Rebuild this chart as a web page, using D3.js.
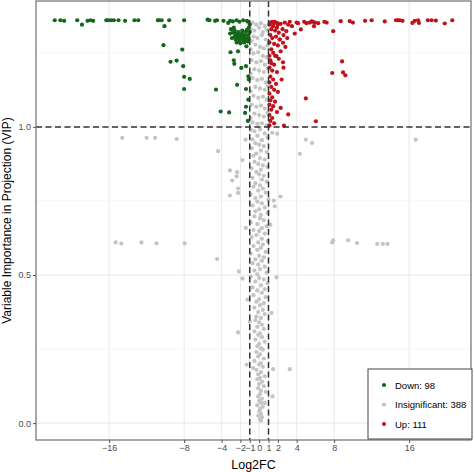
<!DOCTYPE html>
<html>
<head>
<meta charset="utf-8">
<script src="https://cdn.jsdelivr.net/npm/d3@7"></script>
<style>
  body { margin: 0; background: #fff; }
  text { font-family: "Liberation Sans", Arial, sans-serif; }
</style>
</head>
<body>
<script>
// Log2FC / VIP values, [log2fc, vip]
var downPoints = [
  // top row
  [-21.8,1.360],[-21.2,1.360],[-20.8,1.358],[-19.4,1.360],[-18.9,1.345],[-18.3,1.358],[-18.0,1.360],[-17.7,1.358],
  [-16.3,1.360],[-16.1,1.360],[-15.8,1.360],[-15.5,1.360],[-15.0,1.360],[-14.3,1.358],[-13.3,1.360],[-12.9,1.360],
  [-10.8,1.360],[-10.7,1.360],[-10.4,1.360],[-10.1,1.340],[-9.6,1.360],[-8.0,1.360],[-5.5,1.362],[-5.3,1.360],
  [-4.7,1.358],[-4.5,1.360],[-3.8,1.358],[-3.3,1.351],[-3.1,1.358],[-2.8,1.356],[-2.4,1.360],[-2.1,1.355],
  [-1.7,1.360],[-1.3,1.358],[-1.2,1.355],
  // dense cluster near -2
  [-3.0,1.330],[-2.8,1.318],[-2.6,1.325],[-2.4,1.310],[-2.2,1.320],[-2.0,1.305],[-1.8,1.315],[-1.6,1.300],
  [-1.4,1.322],[-1.2,1.310],[-2.9,1.300],[-2.5,1.295],[-2.1,1.290],[-1.7,1.292],[-1.3,1.298],[-1.1,1.335],
  [-2.3,1.300],[-1.9,1.298],[-1.5,1.310],[-2.7,1.335],[-3.1,1.315],[-2.0,1.282],[-1.6,1.285],[-1.2,1.288],
  [-2.4,1.285],[-1.8,1.325],[-1.0,1.320],[-1.4,1.295],[-2.2,1.308],[-2.6,1.305],[-1.1,1.300],[-1.9,1.312],
  [-1.3,1.328],[-2.5,1.315],[-1.7,1.305],[-2.1,1.296],[-1.5,1.290],[-1.0,1.345],
  // scattered
  [-10.2,1.276],[-8.2,1.261],[-9.45,1.220],[-8.8,1.224],[-8.1,1.205],[-8.0,1.169],[-7.4,1.162],[-8.0,1.128],
  [-4.6,1.126],[-3.05,1.252],[-2.25,1.255],[-2.7,1.225],[-2.65,1.213],[-1.9,1.199],[-1.4,1.205],[-2.35,1.142],
  [-1.4,1.128],[-4.1,1.052],[-3.2,1.049],[-1.4,1.068],[-1.15,1.092],[-1.15,1.171],[-1.1,1.160],[-1.35,1.272],
  [-1.5,1.047],[-1.2,1.020]
];

var upPoints = [
  // top row
  [1.25,1.352],[1.67,1.355],[1.96,1.350],[2.3,1.348],[2.74,1.352],[3.1,1.345],[3.27,1.355],[4.0,1.352],
  [4.15,1.350],[4.8,1.355],[5.05,1.350],[5.4,1.352],[5.6,1.356],[5.75,1.355],[5.95,1.352],[6.3,1.350],
  [6.95,1.355],[7.2,1.352],[8.7,1.357],[9.67,1.357],[10.0,1.352],[11.3,1.358],[12.0,1.360],[13.4,1.356],
  [14.6,1.360],[14.8,1.360],[15.0,1.360],[15.3,1.358],[16.35,1.351],[16.6,1.358],[16.95,1.360],[17.05,1.351],
  [18.0,1.360],[18.4,1.360],[18.85,1.359],[19.8,1.349],[20.6,1.360],
  // scattered
  [4.45,1.329],[5.85,1.340],[7.9,1.323],[2.9,1.323],[7.8,1.182],[8.85,1.221],[8.95,1.184],[9.2,1.174],
  [4.98,1.096],[6.05,1.019],[2.55,1.218],[3.1,1.042],[2.65,1.004],[2.3,1.064],[1.85,1.239],[2.2,1.295],
  [2.55,1.284],
  // column next to the cut-off
  [1.1,1.345],[1.3,1.330],[1.5,1.340],[1.7,1.325],[1.9,1.335],[2.1,1.318],[2.5,1.330],[1.2,1.310],
  [1.4,1.300],[1.8,1.305],[2.2,1.295],[2.6,1.310],[3.0,1.300],[1.1,1.285],[1.6,1.280],[2.0,1.275],
  [2.8,1.270],[1.3,1.262],[1.5,1.250],[1.1,1.240],[2.3,1.255],[1.2,1.225],[1.6,1.210],[1.1,1.200],
  [1.4,1.190],[1.9,1.185],[1.2,1.170],[1.5,1.160],[1.1,1.150],[1.8,1.145],[1.3,1.135],[1.6,1.125],
  [2.0,1.118],[1.1,1.112],[1.4,1.100],[1.2,1.090],[1.7,1.085],[1.1,1.075],[1.5,1.070],[1.3,1.058],
  [1.9,1.050],[1.1,1.040],[1.4,1.030],[1.2,1.020],[1.6,1.012],[1.1,1.005],[2.4,1.160],[2.6,1.200],
  [2.1,1.230],[1.3,1.215],[1.7,1.240],[1.2,1.350],[1.4,1.355],[1.6,1.350],[3.5,1.340],[3.8,1.315],
  [2.0,1.345]
];

var insigPoints = [
  // outliers
  [-14.6,0.963],[-12.0,0.963],[-11.1,0.963],[-8.8,0.959],[-15.3,0.610],[-14.7,0.606],[-12.55,0.610],[-10.95,0.607],
  [-7.95,0.607],[4.98,0.957],[5.65,0.946],[4.34,0.909],[16.7,0.957],[7.78,0.610],[7.9,0.617],[9.5,0.617],
  [10.45,0.608],[12.6,0.605],[13.2,0.605],[13.7,0.605],
  [-4.37,0.918],[-3.12,0.853],[-2.35,0.847],[-2.88,0.819],[-2.4,0.833],[-2.24,0.792],[-2.24,0.777],[-3.12,0.768],
  [-1.77,0.888],[-1.45,0.957],[1.39,0.980],[1.92,0.977],[2.28,0.765],[1.57,0.751],[1.67,0.732],[1.2,0.670],
  [-1.42,0.659],[-4.48,0.554],[-2.16,0.512],[-1.77,0.488],[1.85,0.492],[-2.24,0.306],[-1.34,0.197],[-0.64,0.186],
  [1.49,0.182],[3.27,0.182],[1.32,0.372],[1.43,0.090],[0.6,0.068],[-1.24,0.417],[-0.99,0.343],
  // column above 1.0
  [-0.7,1.352],[-0.3,1.345],[0.2,1.350],[0.6,1.340],[-0.9,1.330],[-0.5,1.325],[0.0,1.335],[0.4,1.320],
  [0.8,1.328],[-0.6,1.305],[-0.2,1.300],[0.3,1.310],[0.7,1.295],[-0.8,1.290],[-0.4,1.278],[0.1,1.270],
  [0.5,1.265],[0.9,1.275],[-0.9,1.262],[-0.6,1.248],[-0.1,1.252],[0.4,1.240],[0.8,1.235],[-0.8,1.225],
  [-0.3,1.218],[0.2,1.222],[0.6,1.210],[-0.5,1.195],[0.0,1.190],[0.5,1.185],[0.9,1.198],[-0.9,1.180],
  [-0.7,1.165],[-0.2,1.158],[0.3,1.162],[0.7,1.150],[-0.4,1.135],[0.1,1.130],[0.6,1.125],[-0.9,1.120],
  [0.9,1.138],[-0.6,1.105],[-0.1,1.098],[0.4,1.102],[0.8,1.092],[-0.8,1.075],[-0.3,1.068],[0.2,1.072],
  [0.6,1.062],[-0.5,1.045],[0.0,1.040],[0.5,1.035],[0.9,1.048],[-0.9,1.030],[-0.7,1.015],[-0.2,1.010],
  [0.3,1.012],[0.8,1.005],
  // column 0.5 - 1.0
  [-0.9,0.990],[-0.5,0.985],[0.1,0.992],[0.6,0.978],[-0.2,0.970],[0.9,0.965],[-0.7,0.958],[0.3,0.955],
  [-0.4,0.945],[0.0,0.940],[0.5,0.935],[-0.8,0.928],[0.2,0.920],[0.8,0.915],[-0.3,0.910],[-0.6,0.903],
  [0.1,0.895],[0.6,0.890],[-0.5,0.882],[-0.1,0.875],[0.4,0.870],[0.9,0.865],[-0.8,0.860],[0.2,0.855],
  [-0.3,0.848],[0.0,0.840],[0.5,0.835],[-0.7,0.828],[0.3,0.822],[0.8,0.815],[-0.4,0.810],[0.1,0.803],
  [-0.6,0.798],[0.4,0.792],[-0.1,0.785],[0.7,0.778],[-0.9,0.772],[0.2,0.765],[-0.4,0.760],[1.0,0.755],
  [-0.2,0.748],[0.3,0.742],[-0.7,0.735],[0.6,0.728],[0.0,0.722],[-0.4,0.715],[0.9,0.710],[0.2,0.703],
  [-0.5,0.698],[0.1,0.692],[0.5,0.685],[-0.9,0.678],[-0.2,0.672],[0.8,0.665],[0.3,0.658],[-0.6,0.652],
  [0.0,0.648],[0.6,0.640],[-0.3,0.635],[-0.8,0.628],[0.3,0.622],[0.9,0.615],[-0.1,0.610],[0.4,0.603],
  [-0.6,0.598],[0.2,0.592],[-0.2,0.585],[0.7,0.578],[-0.9,0.572],[0.0,0.565],[0.5,0.560],[-0.4,0.553],
  [0.3,0.548],[-0.7,0.540],[-0.1,0.535],[0.6,0.528],[0.1,0.520],[-0.5,0.515],[0.8,0.508],[-0.2,0.502],
  // column 0.0 - 0.5
  [-0.9,0.495],[0.0,0.490],[0.5,0.485],[-0.4,0.478],[0.9,0.472],[0.2,0.465],[-0.7,0.458],[0.6,0.452],
  [-0.2,0.448],[0.3,0.440],[-0.6,0.432],[0.7,0.425],[0.0,0.418],[-0.3,0.410],[0.5,0.405],
  [0.1,0.398],[-0.5,0.390],[0.4,0.382],[-0.1,0.375],[0.6,0.368],[-0.3,0.360],[0.2,0.355],
  [-0.4,0.348],[0.0,0.340],[0.3,0.332],[-0.2,0.325],[0.5,0.318],[-0.5,0.310],[0.1,0.303],
  [-0.1,0.298],[0.3,0.290],[-0.4,0.282],[0.6,0.275],[0.0,0.268],[-0.2,0.260],[0.2,0.253],
  [0.4,0.248],[-0.3,0.240],[0.1,0.232],[-0.1,0.225],[0.5,0.218],[-0.5,0.210],[0.2,0.203],
  [0.0,0.198],[0.4,0.190],[-0.3,0.180],[0.2,0.172],[-0.1,0.165],[0.6,0.158],[0.1,0.152],
  [-0.2,0.148],[0.3,0.140],[0.0,0.132],[0.5,0.125],[-0.1,0.118],[0.2,0.110],[0.7,0.105],
  [0.1,0.098],[-0.1,0.090],[0.3,0.082],[0.0,0.075],[0.2,0.068],[-0.2,0.060],[0.4,0.055],
  [0.1,0.048],[0.0,0.040],[0.2,0.032],[-0.1,0.025],[0.3,0.020],[0.1,0.012],[0.2,0.008]
];

var xTicks = [-16, -8, -4, -2, -1, 0, 1, 2, 4, 8, 16];
var yTicks = [0, 0.5, 1.0];
var yMinor = [0.25, 0.75, 1.25];
var fcCut = [-1, 1];
var vipCut = 1;
var legendLabels = ['Down: 98', 'Insignificant: 388', 'Up: 111'];
var legendColors = ['#15671b', '#c4c4c4', '#c0121c'];

var width = 474, height = 472;
var margin = { top: 1, right: 3, bottom: 32, left: 36 };

var svg = d3.select('body').append('svg')
  .attr('width', width)
  .attr('height', height);

var x = d3.scaleLinear().domain([-23.8, 22.6]).range([margin.left, width - margin.right]);
var y = d3.scaleLinear().domain([-0.057, 1.425]).range([height - margin.bottom, margin.top]);

// grid
svg.selectAll('line.minor')
  .data(yMinor).enter().append('line')
  .attr('x1', margin.left).attr('x2', width - margin.right)
  .attr('y1', function (d) { return y(d) }).attr('y2', function (d) { return y(d) })
  .style('stroke', '#f2f2f2').style('stroke-width', 0.8);

svg.selectAll('line.gy')
  .data(yTicks).enter().append('line')
  .attr('x1', margin.left).attr('x2', width - margin.right)
  .attr('y1', function (d) { return y(d) }).attr('y2', function (d) { return y(d) })
  .style('stroke', '#e8e8e8').style('stroke-width', 1);

svg.selectAll('line.gx')
  .data(xTicks).enter().append('line')
  .attr('y1', margin.top).attr('y2', height - margin.bottom)
  .attr('x1', function (d) { return x(d) }).attr('x2', function (d) { return x(d) })
  .style('stroke', '#e8e8e8').style('stroke-width', 1);

// points
function drawPoints(data, color) {
  svg.append('g').selectAll('circle')
    .data(data).enter().append('circle')
    .attr('cx', function (d) { return x(d[0]) })
    .attr('cy', function (d) { return y(d[1]) })
    .attr('r', 2.1)
    .style('fill', color);
}
drawPoints(insigPoints, legendColors[1]);
drawPoints(downPoints, legendColors[0]);
drawPoints(upPoints, legendColors[2]);

// cut-off lines
svg.selectAll('line.cut')
  .data(fcCut).enter().append('line')
  .attr('y1', margin.top).attr('y2', height - margin.bottom)
  .attr('x1', function (d) { return x(d) }).attr('x2', function (d) { return x(d) })
  .style('stroke', '#333').style('stroke-width', 1.5).style('stroke-dasharray', '6,3.5');

svg.append('line')
  .attr('x1', margin.left).attr('x2', width - margin.right)
  .attr('y1', y(vipCut)).attr('y2', y(vipCut))
  .style('stroke', '#333').style('stroke-width', 1.5).style('stroke-dasharray', '6,3.5');

// panel border
svg.append('rect')
  .attr('x', margin.left).attr('y', margin.top)
  .attr('width', width - margin.right - margin.left)
  .attr('height', height - margin.bottom - margin.top)
  .style('fill', 'none').style('stroke', '#7a7a7a').style('stroke-width', 1.3);

// axes
var xAxis = svg.append('g')
  .attr('transform', 'translate(0,' + (height - margin.bottom) + ')')
  .call(d3.axisBottom(x).tickValues(xTicks).tickSize(3).tickPadding(2).tickFormat(d3.format('d')));
var yAxis = svg.append('g')
  .attr('transform', 'translate(' + margin.left + ',0)')
  .call(d3.axisLeft(y).tickValues(yTicks).tickSize(3).tickPadding(2).tickFormat(d3.format('.1f')));

[xAxis, yAxis].forEach(function (a) {
  a.select('.domain').remove();
  a.selectAll('line').style('stroke', '#555');
  a.selectAll('text').style('fill', '#4d4d4d').style('font-size', '9px')
    .style('font-family', '"Liberation Sans", Arial, sans-serif');
});

svg.append('text')
  .attr('x', (margin.left + width - margin.right) / 2)
  .attr('y', 469)
  .attr('text-anchor', 'middle')
  .style('font-size', '12.5px')
  .text('Log2FC');

svg.append('text')
  .attr('transform', 'translate(11,' + ((margin.top + height - margin.bottom) / 2) + ') rotate(-90)')
  .attr('text-anchor', 'middle')
  .style('font-size', '12px')
  .text('Variable Importance in Projection (VIP)');

// legend
var legend = svg.append('g').attr('transform', 'translate(368,369)');
legend.append('rect')
  .attr('width', 104).attr('height', 70)
  .style('fill', '#fff').style('stroke', '#444').style('stroke-width', 1);
legend.selectAll('circle')
  .data(legendLabels).enter().append('circle')
  .attr('cx', 16)
  .attr('cy', function (d, i) { return 16 + i * 19.5 })
  .attr('r', 2.1)
  .style('fill', function (d, i) { return legendColors[i] });
legend.selectAll('text')
  .data(legendLabels).enter().append('text')
  .attr('x', 27)
  .attr('y', function (d, i) { return 19.5 + i * 19.5 })
  .style('font-size', '9.5px')
  .text(function (d) { return d });
</script>
</body>
</html>
